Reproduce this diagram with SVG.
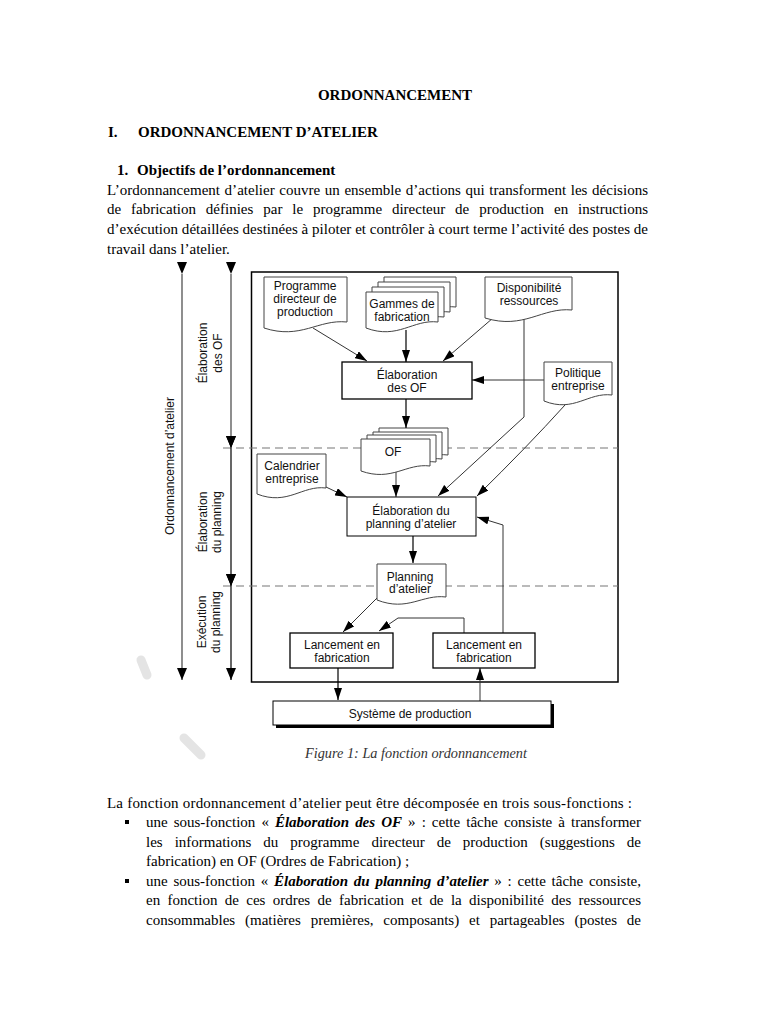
<svg xmlns="http://www.w3.org/2000/svg" width="768" height="1024" viewBox="0 0 768 1024">
<style>
.body{font-family:"Liberation Serif","Times New Roman",serif;font-size:15px;fill:#000}
.b{font-weight:bold}
.bi{font-weight:bold;font-style:italic}
.dt{font-family:"Liberation Sans",Arial,sans-serif;font-size:12px;fill:#111;text-anchor:middle}
.doc{fill:#fff;stroke:#444;stroke-width:1}
.box{fill:#fff;stroke:#000;stroke-width:1.3}
.ln{fill:none;stroke:#333;stroke-width:1}
.lk{fill:none;stroke:#000;stroke-width:1.2}
.dash{fill:none;stroke:#777;stroke-width:1.2;stroke-dasharray:8 5}
.cap{font-family:"Liberation Serif","Times New Roman",serif;font-style:italic;font-size:14px;fill:#333;text-anchor:middle}
</style>
<defs>
<marker id="ah" viewBox="0 0 12 8" refX="12" refY="4" markerWidth="12" markerHeight="8" orient="auto" markerUnits="userSpaceOnUse"><path d="M0,0 L12,4 L0,8 z" fill="#000"/></marker>
<marker id="ahL" viewBox="0 0 12 10" refX="12" refY="5" markerWidth="12" markerHeight="10" orient="auto" markerUnits="userSpaceOnUse"><path d="M0,0 L12,5 L0,10 z" fill="#000"/></marker>
</defs>
<rect width="768" height="1024" fill="#fff"/>

<!-- page text -->
<g id="header">
<text class="body b" x="395" y="100" text-anchor="middle">ORDONNANCEMENT</text>
<text class="body b" x="108" y="137">I.</text>
<text class="body b" x="138" y="137">ORDONNANCEMENT D’ATELIER</text>
<text class="body b" x="117" y="175">1.</text>
<text class="body b" x="137" y="175">Objectifs de l’ordonnancement</text>
<text class="body" x="107" y="195" word-spacing="0.8" textLength="541" lengthAdjust="spacing">L’ordonnancement d’atelier couvre un ensemble d’actions qui transforment les décisions</text>
<text class="body" x="107" y="214" word-spacing="6.1" textLength="541" lengthAdjust="spacing">de fabrication définies par le programme directeur de production en instructions</text>
<text class="body" x="107" y="234" textLength="541" lengthAdjust="spacing">d’exécution détaillées destinées à piloter et contrôler à court terme l’activité des postes de</text>
<text class="body" x="107" y="254">travail dans l’atelier.</text>
</g>

<!-- watermark marks -->
<g id="watermark" stroke="#e4e4e4" stroke-width="9" stroke-linecap="round" fill="none">
<line x1="141" y1="660" x2="147" y2="675"/>
<line x1="184" y1="738" x2="201" y2="755"/>
</g>

<!-- frame and dashed separators -->
<g id="frame">
<rect x="251.5" y="272" width="366.5" height="410" fill="none" stroke="#000" stroke-width="1.5"/>
<line class="dash" x1="223" y1="448" x2="618" y2="448"/>
<line class="dash" x1="223" y1="586" x2="618" y2="586"/>
</g>

<!-- left scale -->
<g id="scale">
<line x1="182" y1="274" x2="182" y2="680" stroke="#444" stroke-width="1.2" marker-start="url(#ahL)" marker-end="url(#ahL)"/>
<line x1="231" y1="274" x2="231" y2="448" stroke="#444" stroke-width="1.2" marker-start="url(#ahL)" marker-end="url(#ahL)"/>
<line x1="231" y1="448" x2="231" y2="586" stroke="#000" stroke-width="1.2" marker-start="url(#ahL)" marker-end="url(#ahL)"/>
<line x1="231" y1="586" x2="231" y2="680" stroke="#000" stroke-width="1.2" marker-start="url(#ahL)" marker-end="url(#ahL)"/>
<text class="dt" font-size="11.5" transform="translate(174,466) rotate(-90)">Ordonnancement d’atelier</text>
<text class="dt" transform="translate(207,353) rotate(-90)"><tspan x="0" y="0">Élaboration</tspan><tspan x="0" y="15">des OF</tspan></text>
<text class="dt" transform="translate(207,522) rotate(-90)"><tspan x="0" y="0">Élaboration</tspan><tspan x="0" y="14">du planning</tspan></text>
<text class="dt" transform="translate(206,622) rotate(-90)"><tspan x="0" y="0">Exécution</tspan><tspan x="0" y="14">du planning</tspan></text>
</g>

<!-- connectors -->
<g id="connectors">
<line class="ln" x1="313" y1="328" x2="367" y2="361" marker-end="url(#ah)"/>
<line class="lk" x1="406" y1="330" x2="406" y2="362" marker-end="url(#ah)"/>
<line class="ln" x1="493" y1="318" x2="443" y2="361" marker-end="url(#ah)"/>
<line class="ln" x1="544" y1="380" x2="472" y2="380" marker-end="url(#ah)"/>
<line class="ln" stroke="#888" x1="396" y1="470" x2="396" y2="497" marker-end="url(#ah)"/>
<line class="ln" x1="326" y1="487" x2="347" y2="497" marker-end="url(#ah)"/>
<polyline class="ln" points="524,318 524,417 438,496" marker-end="url(#ah)"/>
<path class="ln" d="M565,405 Q527,447 477,496" marker-end="url(#ah)"/>
<line class="lk" x1="413" y1="536" x2="413" y2="563" marker-end="url(#ah)"/>
<line class="ln" x1="377" y1="598" x2="343" y2="632" marker-end="url(#ah)"/>
<polyline class="ln" points="464,633 464,618 398,618 379,631" marker-end="url(#ah)"/>
<polyline class="ln" points="503,633 503,525 477,517" marker-end="url(#ah)"/>
<line class="lk" x1="338" y1="668" x2="338" y2="700" marker-end="url(#ah)"/>
<line class="ln" x1="480" y1="701" x2="480" y2="668" marker-end="url(#ah)"/>
</g>

<!-- nodes -->
<g id="programme">
<path class="doc" d="M264,277 H347 V322 C318,319 301,340 264,328 Z"/>
<text class="dt"><tspan x="305" y="290">Programme</tspan><tspan x="305" y="303">directeur de</tspan><tspan x="305" y="316">production</tspan></text>
</g>
<g id="gammes">
<path class="doc" d="M384,277 H456 V307 C431,304 416,325 384,313 Z"/>
<path class="doc" d="M378,282 H450 V312 C425,309 410,330 378,318 Z"/>
<path class="doc" d="M372,287 H444 V317 C419,314 404,335 372,323 Z"/>
<path class="doc" d="M366,292 H438 V322 C413,319 398,340 366,328 Z"/>
<text class="dt"><tspan x="402" y="308">Gammes de</tspan><tspan x="402" y="321">fabrication</tspan></text>
</g>
<g id="disponibilite">
<path class="doc" d="M485,277 H572 V310 C542,307 524,330 485,318 Z"/>
<text class="dt"><tspan x="529" y="292">Disponibilité</tspan><tspan x="529" y="305">ressources</tspan></text>
</g>
<g id="elab-of">
<rect class="box" x="342" y="362" width="130" height="37"/>
<text class="dt"><tspan x="407" y="379">Élaboration</tspan><tspan x="407" y="392">des OF</tspan></text>
</g>
<g id="politique">
<path class="doc" d="M544,362 H612 V395 C588,392 574,413 544,401 Z"/>
<text class="dt"><tspan x="578" y="377">Politique</tspan><tspan x="578" y="390">entreprise</tspan></text>
</g>
<g id="of">
<path class="doc" d="M379,428 H448 V455 C424,452 410,471 379,460 Z"/>
<path class="doc" d="M373,432 H442 V459 C418,456 404,475 373,464 Z"/>
<path class="doc" d="M367,435 H436 V462 C412,459 398,478 367,467 Z"/>
<path class="doc" d="M361,439 H430 V466 C406,463 392,482 361,471 Z"/>
<text class="dt" x="393" y="456">OF</text>
</g>
<line class="lk" x1="406" y1="399" x2="406" y2="428" marker-end="url(#ah)"/>
<g id="calendrier">
<path class="doc" d="M257,454 H326 V488 C302,485 288,506 257,494 Z"/>
<text class="dt"><tspan x="292" y="470">Calendrier</tspan><tspan x="292" y="483">entreprise</tspan></text>
</g>
<g id="elab-planning">
<rect x="347" y="497" width="129" height="39" fill="#fff" stroke="#000" stroke-width="1"/>
<text class="dt"><tspan x="411" y="515">Élaboration du</tspan><tspan x="411" y="528">planning d’atelier</tspan></text>
</g>
<g id="planning">
<path class="doc" d="M377,564 H446 V597 C422,594 408,612 377,600 Z"/>
<text class="dt"><tspan x="410" y="581">Planning</tspan><tspan x="410" y="593">d’atelier</tspan></text>
</g>
<g id="lancement-1">
<rect class="box" x="290" y="633" width="103" height="35"/>
<text class="dt"><tspan x="342" y="649">Lancement en</tspan><tspan x="342" y="662">fabrication</tspan></text>
</g>
<g id="lancement-2">
<rect class="box" x="433" y="633" width="102" height="35"/>
<text class="dt"><tspan x="484" y="649">Lancement en</tspan><tspan x="484" y="662">fabrication</tspan></text>
</g>
<g id="systeme">
<rect x="276" y="704" width="278" height="24" fill="#000"/>
<rect x="273" y="701" width="278" height="24" fill="#fff" stroke="#000" stroke-width="1"/>
<text class="dt" x="410" y="718">Système de production</text>
</g>

<text class="cap" x="416" y="758" textLength="222" lengthAdjust="spacingAndGlyphs">Figure 1: La fonction ordonnancement</text>

<!-- bottom text -->
<g id="footer">
<text class="body" x="107" y="808" textLength="525" lengthAdjust="spacing">La fonction ordonnancement d’atelier peut être décomposée en trois sous-fonctions :</text>
<rect x="125" y="820" width="4" height="4" fill="#000"/>
<text class="body" x="146" y="827" word-spacing="2.3" textLength="495" lengthAdjust="spacing">une sous-fonction « <tspan class="bi">Élaboration des OF</tspan> » : cette tâche consiste à transformer</text>
<text class="body" x="146" y="847" word-spacing="8.2" textLength="495" lengthAdjust="spacing">les informations du programme directeur de production (suggestions de</text>
<text class="body" x="146" y="866">fabrication) en OF (Ordres de Fabrication) ;</text>
<rect x="125" y="879" width="4" height="4" fill="#000"/>
<text class="body" x="146" y="886" word-spacing="2" textLength="495" lengthAdjust="spacing">une sous-fonction « <tspan class="bi">Élaboration du planning d’atelier</tspan> » : cette tâche consiste,</text>
<text class="body" x="146" y="905" word-spacing="3.6" textLength="495" lengthAdjust="spacing">en fonction de ces ordres de fabrication et de la disponibilité des ressources</text>
<text class="body" x="146" y="925" word-spacing="6.1" textLength="495" lengthAdjust="spacing">consommables (matières premières, composants) et partageables (postes de</text>
</g>
</svg>
